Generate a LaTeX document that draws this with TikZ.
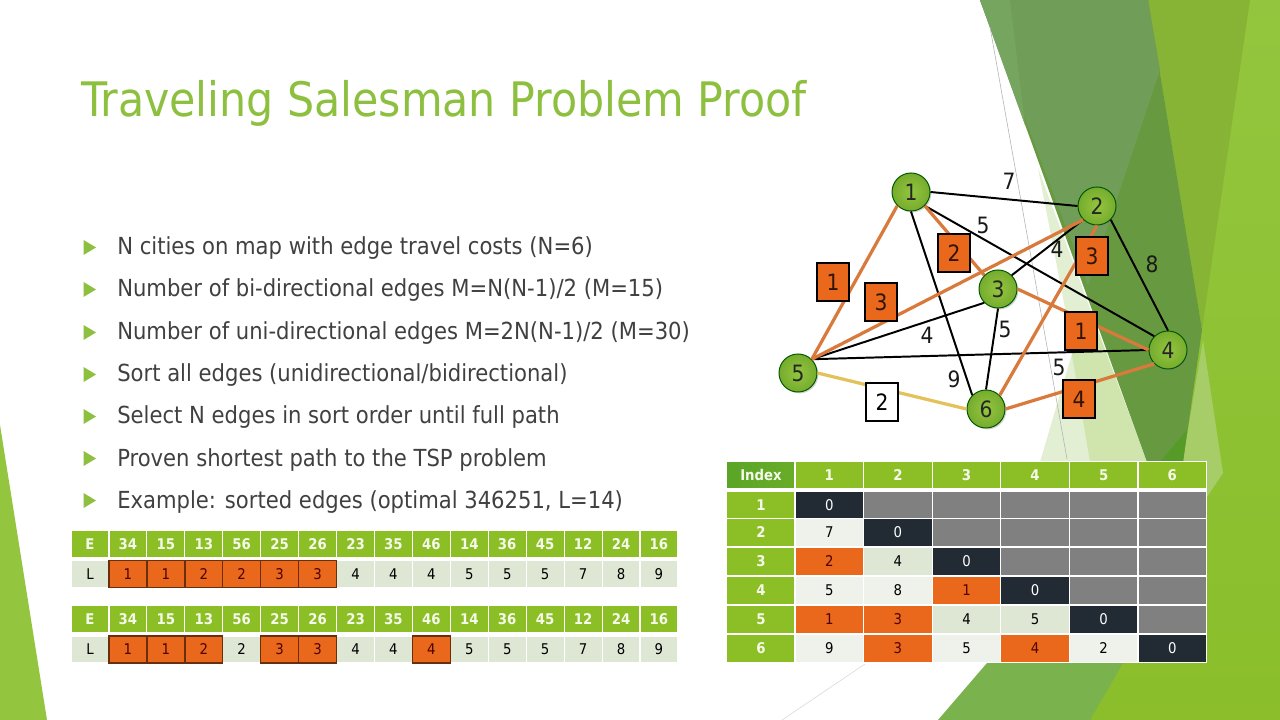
\documentclass[tikz,border=0pt]{standalone}
\usepackage{fontspec}
\setmainfont{DejaVu Sans Condensed}
\usetikzlibrary{shadows}
\definecolor{leafgreen}{HTML}{8CBF26}
\definecolor{titlegreen}{HTML}{8DC03F}
\definecolor{deepgreen}{HTML}{5AA527}
\definecolor{slate}{HTML}{222B33}
\definecolor{burnt}{HTML}{E9681C}
\definecolor{burntline}{HTML}{D97A3C}
\definecolor{paleline}{HTML}{E3C25A}
\definecolor{bodygrey}{HTML}{404040}
\definecolor{cellpale}{HTML}{EEF2EA}
\definecolor{celllight}{HTML}{DDE7D3}
\definecolor{bandtop}{HTML}{709E58}
\definecolor{bandleft}{HTML}{75A55F}
\definecolor{bandlow}{HTML}{679A40}
\definecolor{bandcorner}{HTML}{569A28}
\definecolor{bandmid}{HTML}{87B434}
\definecolor{rightup}{HTML}{93C63E}
\definecolor{rightlow}{HTML}{8BBE2A}
\definecolor{patch}{HTML}{A6CD68}
\definecolor{paleup}{HTML}{E3EFD3}
\definecolor{palelow}{HTML}{D0E4AE}
\definecolor{bottommid}{HTML}{7AB24E}
\definecolor{cityrim}{HTML}{76AB2E}
\begin{document}
\begin{tikzpicture}[x=0.025cm,y=-0.025cm]
 \tikzstyle{citynode} = [draw=black!65!green,line width=0.7pt,inner color=rightup,outer color=cityrim,circle,minimum size=0.95cm,inner sep=0,font=\fontsize{16}{20}\selectfont,text=black!85,drop shadow={shadow xshift=1pt,shadow yshift=-1pt,opacity=0.35}]
 \tikzstyle{costbox} = [draw=black,line width=1.4pt,fill=burnt,minimum width=0.8cm,minimum height=0.95cm,inner sep=0,font=\fontsize{16}{20}\selectfont,text=black!80!burnt]
 \tikzstyle{whitebox} = [costbox,fill=white,text=black]
 \tikzstyle{costtext} = [inner sep=0,font=\fontsize{16}{20}\selectfont,text=black!90]
 \tikzstyle{plainedge} = [draw=black,line width=1.4pt]
 \tikzstyle{usededge} = [draw=burntline,line width=2.3pt]
 \tikzstyle{spareedge} = [draw=paleline,line width=2.3pt]
 \tikzstyle{listtext} = [anchor=base west,inner sep=0,text=bodygrey,font=\fontsize{16.7}{20}\selectfont]
 \tikzstyle{cell} = [draw=white,line width=0.8pt,inner sep=0,outer sep=0,font=\fontsize{10.5}{12}\selectfont]
 \tikzstyle{smallcell} = [cell,minimum width=0.948cm,minimum height=0.67cm]
 \tikzstyle{headcell} = [fill=leafgreen,text=white!90!leafgreen,font=\fontsize{10.5}{12}\selectfont\bfseries]
 \tikzstyle{lightcell} = [fill=celllight,text=black]
 \tikzstyle{palecell} = [fill=cellpale,text=black]
 \tikzstyle{greycell} = [fill=black!50]
 \tikzstyle{darkcell} = [fill=slate,text=white]
 \tikzstyle{hotcell} = [fill=burnt,text=black!70!red]
 \tikzstyle{hotline} = [draw=black!55!burnt,line width=1pt]
 \newcommand{\cw}{37.93}
 \newcommand{\mw}{68.6}

% Background shapes
 \useasboundingbox (0,0) rectangle (1280,720);
 \fill[white] (0,0) rectangle (1280,720);
 \fill[top color=rightup,bottom color=rightlow] (1148,0) -- (1280,0) -- (1280,720) -- (1090,720) -- (1183,460) -- cycle;
 \fill[bandmid] (1148,0) -- (1250,0) -- (1212,260) -- (1202,330) -- cycle;
 \fill[patch] (1203,340) -- (1223,473) -- (1207,497) -- (1183,460) -- cycle;
 \fill[paleup] (1038,168) -- (1147,462) -- (1040,462) -- (1073,350) -- cycle;
 \fill[palelow] (1072,355) -- (1090,462) -- (1147,462) -- (1090,310) -- cycle;
 \fill[bandlow] (980,0) -- (1148,0) -- (1202,330) -- (1183,462) -- (1147,462) -- cycle;
 \fill[bandtop] (980,0) -- (1148,0) -- (1160,70) -- (1088,285) -- cycle;
 \fill[bandleft] (980,0) -- (1010,0) -- (1025,125) -- cycle;
 \fill[bandcorner] (1187,430) -- (1160,462) -- (1183,462) -- cycle;
 \fill[bottommid] (987,663) -- (1123,663) -- (1090,720) -- (938,720) -- cycle;
 \fill[rightup] (0,425) -- (47,720) -- (0,720) -- cycle;
 \draw[black!30,line width=0.4pt] (990,27) -- (1067,459);
 \draw[black!15,line width=0.4pt] (865,664) -- (782,720);
 \fill[white] (727,461) rectangle (1207,663);

% Title and list
 \node[anchor=base west,inner sep=0,text=titlegreen,font=\fontsize{33.8}{40}\selectfont] (title) at (81,117) {Traveling Salesman Problem Proof};
 \foreach \ly/\lab [count=\i] in {255/{N cities on map with edge travel costs (N=6)},
                                   297/{Number of bi-directional edges M=N(N-1)/2 (M=15)},
                                   340/{Number of uni-directional edges M=2N(N-1)/2 (M=30)},
                                   382/{Sort all edges (unidirectional/bidirectional)},
                                   424/{Select N edges in sort order until full path},
                                   466/{Proven shortest path to the TSP problem},
                                   508/{Example: sorted edges (optimal 346251, L=14)}}{
  \fill[titlegreen] (83.5,\ly-15) -- (96,\ly-7.5) -- (83.5,\ly) -- cycle;
  \node[listtext] (item\i) at (117,\ly) {\lab};
 }

% Nodes
 \node[citynode] (n1) at (911,192) {1};
 \node[citynode] (n2) at (1097,206) {2};
 \node[citynode] (n3) at (998,289) {3};
 \node[citynode] (n4) at (1168,350) {4};
 \node[citynode] (n5) at (798,373) {5};
 \node[citynode] (n6) at (986,409) {6};
 \draw[plainedge] (n1.east) -- (n2.west);
 \draw[plainedge] (n1.south east) -- (n4.north west);
 \draw[plainedge] (n1.south) -- (n6.north west);
 \draw[plainedge] (n2.south west) -- (n3.north east);
 \draw[plainedge] (n2.south east) -- (n4.north);
 \draw[plainedge] (n3.south west) -- (n5.north east);
 \draw[plainedge] (n3.south) -- (n6.north);
 \draw[plainedge] (n4.west) -- (n5.north east);
 \draw[usededge] (n1.south east) -- (n3.north west);
 \draw[usededge] (n1.south west) -- (n5.north east);
 \draw[usededge] (n2.south west) -- (n5.north east);
 \draw[usededge] (n2.south) -- (n6.north east);
 \draw[usededge] (n3.east) -- (n4.west);
 \draw[usededge] (n4.south west) -- (n6.east);
 \draw[spareedge] (n5.east) -- (n6.west);
% Costs
 \node[costbox] (b1) at (833,282) {1};
 \node[costbox] (b2) at (881,302) {3};
 \node[costbox] (b3) at (954,253) {2};
 \node[costbox] (b4) at (1092,256) {3};
 \node[costbox] (b5) at (1081,331) {1};
 \node[costbox] (b6) at (1079,399) {4};
 \node[whitebox] (b7) at (882,402) {2};
 \node[costtext] (w1) at (1009,181) {7};
 \node[costtext] (w2) at (983,225) {5};
 \node[costtext] (w3) at (1057,249) {4};
 \node[costtext] (w4) at (1152,264) {8};
 \node[costtext] (w5) at (927,335) {4};
 \node[costtext] (w6) at (1005,329) {5};
 \node[costtext] (w7) at (1059,367) {5};
 \node[costtext] (w8) at (954,379) {9};

% Edge lists
 \foreach \ey/\ly/\tb/\hots/\vals in {
   544/574/a/{1,2,3,4,5,6}/{1/hotcell,1/hotcell,2/hotcell,2/hotcell,3/hotcell,3/hotcell,4/lightcell,4/lightcell,4/lightcell,5/lightcell,5/lightcell,5/lightcell,7/lightcell,8/lightcell,9/lightcell},
   619/649.5/b/{1,2,3,5,6,9}/{1/hotcell,1/hotcell,2/hotcell,2/lightcell,3/hotcell,3/hotcell,4/lightcell,4/lightcell,4/hotcell,5/lightcell,5/lightcell,5/lightcell,7/lightcell,8/lightcell,9/lightcell}}{
  \node[smallcell,headcell] (\tb e0) at (90,\ey) {E};
  \node[smallcell,lightcell] (\tb l0) at (90,\ly) {L};
  \foreach \lab [count=\i] in {34,15,13,56,25,26,23,35,46,14,36,45,12,24,16}
   \node[smallcell,headcell] (\tb e\i) at ({90+\cw*\i},\ey) {\lab};
  \foreach \val/\sty [count=\i] in \vals
   \node[smallcell,\sty] (\tb l\i) at ({90+\cw*\i},\ly) {\val};
  \foreach \j in \hots
   \draw[hotline] (\tb l\j.south west) rectangle (\tb l\j.north east);
 }

% Cost matrix
 \node[cell,headcell,left color=deepgreen,right color=deepgreen!70!leafgreen,minimum width=1.71cm,minimum height=0.67cm] (idx) at (761,475) {Index};
 \foreach \i in {1,...,6}
  \node[cell,headcell,minimum width=1.715cm,minimum height=0.67cm] (top\i) at ({795+\mw*(\i-0.5)},475) {\i};
 \foreach \ry/\rh/\vals [count=\r] in {
   505/0.66/{0/darkcell,/greycell,/greycell,/greycell,/greycell,/greycell},
   532.5/0.72/{7/palecell,0/darkcell,/greycell,/greycell,/greycell,/greycell},
   561.5/0.72/{2/hotcell,4/lightcell,0/darkcell,/greycell,/greycell,/greycell},
   590.5/0.72/{5/palecell,8/palecell,1/hotcell,0/darkcell,/greycell,/greycell},
   619.5/0.72/{1/hotcell,3/hotcell,4/lightcell,5/lightcell,0/darkcell,/greycell},
   648.5/0.72/{9/palecell,3/hotcell,5/palecell,4/hotcell,2/palecell,0/darkcell}}{
  \node[cell,headcell,minimum width=1.71cm,minimum height=\rh cm] (side\r) at (761,\ry) {\r};
  \foreach \val/\sty [count=\c] in \vals
   \node[cell,\sty,minimum width=1.715cm,minimum height=\rh cm] (m\r-\c) at ({795+\mw*(\c-0.5)},\ry) {\val};
 }
\end{tikzpicture}
\end{document}
